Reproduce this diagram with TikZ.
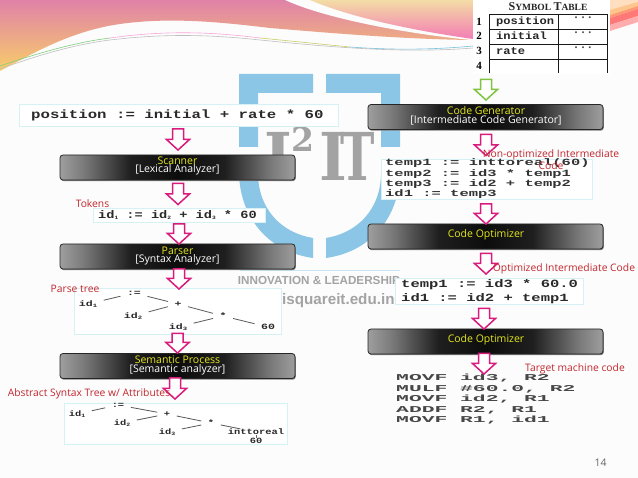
\documentclass[tikz,border=0pt]{standalone}
\usepackage{fontspec}
\setmainfont{Open Sans}
\newfontfamily\codefont{Liberation Mono}
\newfontfamily\logofont{DejaVu Serif}
\newfontfamily\brandfont{Liberation Sans}
\newfontfamily\tablefont{Liberation Serif}
\usetikzlibrary{shadows}
\definecolor{logoblue}{HTML}{8CC6E7}
\definecolor{logogray}{HTML}{A3A3A3}
\definecolor{arrowpink}{HTML}{D81B7C}
\definecolor{arrowgreen}{HTML}{80C341}
\definecolor{labelred}{HTML}{C2262E}
\definecolor{stageyellow}{HTML}{E4E81E}
\definecolor{boxedge}{HTML}{D6F1F3}
\definecolor{codeink}{HTML}{2A2A2A}
\pgfdeclarehorizontalshading{stagegrad}{100bp}{color(0bp)=(black!38);color(25bp)=(black!38);color(30bp)=(black!52);color(40bp)=(black!88);color(50bp)=(black!95);color(60bp)=(black!88);color(70bp)=(black!52);color(75bp)=(black!38);color(100bp)=(black!38)}
\tikzset{
  stagebox/.style={draw=black!85,line width=.8pt,rounded corners=3pt,shading=stagegrad,shade,minimum width=235pt,minimum height=25pt,inner sep=0pt,
    general shadow={fill=black!50,shadow xshift=.8pt,shadow yshift=-1.2pt}},
  stagetext/.style={font=\fontsize{10.5}{10.5}\selectfont,inner sep=0pt},
  upper/.style={stagetext,text=stageyellow},
  lower/.style={stagetext,text=white},
  notelabel/.style={font=\fontsize{10.3}{12}\selectfont,text=labelred,inner sep=0pt,align=center},
  codebox/.style={draw=boxedge,line width=.8pt,fill=white,inner sep=0pt},
  codeline/.style={font=\codefont\bfseries\fontsize{9.5}{9.5}\selectfont,text=black!80,inner sep=0pt,anchor=west},
  optline/.style={font=\codefont\bfseries\fontsize{11}{11}\selectfont,text=codeink,inner sep=0pt,anchor=west},
  machline/.style={font=\codefont\bfseries\fontsize{9}{9}\selectfont,text=black!72,inner sep=0pt,anchor=west},
  treeitem/.style={font=\codefont\bfseries\fontsize{8}{8}\selectfont,text=codeink,inner sep=1.5pt},
  treeline/.style={draw=black!65,line width=.8pt,shorten >=5pt,shorten <=5pt},
  blockarrow/.style={draw=#1,line width=1.5pt,fill=white,line join=miter},
  tablerule/.style={draw=black!90,line width=.9pt},
  tabletext/.style={font=\codefont\bfseries\fontsize{10.5}{10.5}\selectfont,inner sep=0pt,text=black!85},
  rownum/.style={font=\tablefont\bfseries\fontsize{11}{11}\selectfont,inner sep=0pt},
  tabledots/.style={font=\tablefont\bfseries\fontsize{12}{12}\selectfont,inner sep=0pt,text=black!70},
  brand/.style={font=\brandfont\bfseries,text=logogray,inner sep=0pt},
  wave/.style={line width=.6pt},
}
% cx, top, bottom, colour
\newcommand{\blockarr}[4]{\draw[blockarrow=#4] ({#1-5.5},#2) -- ({#1+5.5},#2) -- ({#1+5.5},{#3-10.5}) -- ({#1+11.5},{#3-10.5}) -- (#1,#3) -- ({#1-11.5},{#3-10.5}) -- ({#1-5.5},{#3-10.5}) -- cycle;}
\newcommand{\wide}[2]{\scalebox{#1}[1]{#2}}
\newcommand{\lowd}[1]{\raisebox{-1.5pt}{\fontsize{5}{5}\selectfont #1}}
\begin{document}
\begin{tikzpicture}[x=1pt,y=-1pt]
\useasboundingbox (0,0) rectangle (638,478);
\fill[black!1] (0,0) rectangle (638,478);
% header waves
\shade[top color={rgb,255:red,224;green,130;blue,168},middle color={rgb,255:red,232;green,165;blue,145},bottom color={rgb,255:red,248;green,205;blue,105}]
  (0,0) -- (470,0) -- (470,40) .. controls (400,39) and (330,33) .. (270,28) .. controls (220,22) and (170,17) .. (120,24) .. controls (70,31) and (30,55) .. (0,71) -- cycle;
\fill[black!1] (283,-1) .. controls (320,17) and (400,33) .. (471,40) -- (471,-1) -- cycle;
\shade[top color={rgb,255:red,243;green,220;blue,165},bottom color={rgb,255:red,243;green,125;blue,180}]
  (310,0) .. controls (350,17) and (410,30) .. (473,39) -- (473,0) -- cycle;
\draw[wave,draw=green!45!gray!70] (0,66) .. controls (30,56) and (70,43) .. (110,38);
\draw[wave,draw=magenta!35] (110,38) .. controls (160,31) and (205,31) .. (260,38);
\draw[wave,draw=green!35!orange!60] (260,38) .. controls (290,41) and (320,44) .. (350,47);
\draw[wave,draw=cyan!70!gray!70] (350,47) .. controls (390,50) and (430,50) .. (473,46);
\draw[wave,draw=black!25] (0,69) .. controls (30,58) and (70,45) .. (110,40) .. controls (160,34) and (205,34) .. (260,40) .. controls (320,46) and (400,54) .. (473,48);
% top right stripes
\begin{scope}
\clip (610,0) rectangle (638,40);
\fill[orange!25] (610,12) -- (638,2) -- (638,0) -- (610,0) -- cycle;
\fill[orange!45] (610,15) -- (638,6) -- (638,2) -- (610,10) -- cycle;
\fill[red!45!orange!55] (610,18) -- (638,9) -- (638,6) -- (610,15) -- cycle;
\fill[red!55!pink!80] (610,25) -- (638,16) -- (638,9) -- (610,18) -- cycle;
\fill[pink!90!red] (610,31) -- (638,22) -- (638,16) -- (610,25) -- cycle;
\end{scope}
% logo
\fill[logoblue] (239,74) -- (313,74) -- (313,93) -- (258,93) -- (258,147) -- (239,147) -- cycle;
\fill[logoblue] (400,74) -- (326,74) -- (326,93) -- (381,93) -- (381,147) -- (400,147) -- cycle;
\fill[logoblue] (239,175) .. controls (241,220) and (270,252) .. (313,258) -- (313,238) .. controls (282,233) and (259,210) .. (258,175) -- cycle;
\fill[logoblue] (400,175) .. controls (398,220) and (369,252) .. (326,258) -- (326,238) .. controls (357,233) and (380,210) .. (381,175) -- cycle;
\node[font=\logofont\bfseries\fontsize{66}{66}\selectfont,text=logogray,inner sep=0pt] (logoI) at (278,156) {\scalebox{.9}[1]{I}};
\node[font=\logofont\bfseries\fontsize{33}{33}\selectfont,text=logogray,inner sep=0pt] (logoTwo) at (303,139) {2};
\node[font=\logofont\bfseries\fontsize{66}{66}\selectfont,text=logogray,inner sep=0pt] (logoIb) at (333,156) {\scalebox{.9}[1]{I}};
\node[font=\logofont\bfseries\fontsize{66}{66}\selectfont,text=logogray,inner sep=0pt] (logoT) at (358,156) {\scalebox{.7}[1]{T}};
\draw[logoblue!45,line width=.8pt] (240,270) -- (400,270);
\node[brand,font=\brandfont\bfseries\fontsize{11.7}{11.7}\selectfont] (innov) at (319,280) {INNOVATION \& LEADERSHIP};
\node[brand,font=\brandfont\bfseries\fontsize{15.2}{15.2}\selectfont,anchor=west] (site) at (282,301) {isquareit.edu.in};
% stage boxes
\node[stagebox] (scanner) at (177.5,167.5) {};
\node[stagebox] (parser) at (177.5,256.5) {};
\node[stagebox] (semantic) at (177.5,366) {};
\node[stagebox] (generator) at (485.5,117) {};
\node[stagebox] (optimizerA) at (485.5,236.5) {};
\node[stagebox] (optimizerB) at (485.5,341.5) {};
% code panels
\node[codebox,minimum width=319pt,minimum height=22pt] (source) at (178.5,115) {};
\node[optline,font=\codefont\bfseries\fontsize{12}{12}\selectfont] (sourcetext) at (31,115) {\wide{1.31}{position := initial + rate * 60}};
\node[codebox,minimum width=172pt,minimum height=14pt] (tokens) at (179,215) {};
\node[optline] (tokentext) at (98,215) {\wide{1.24}{id\lowd{1} := id\lowd{2} + id\lowd{3} * 60}};
\node[codebox,minimum width=207pt,minimum height=46pt] (parsepanel) at (177.5,311) {};
\node[treeitem] (pa) at (88,304) {\wide{1.45}{id\lowd{1}}};
\node[treeitem] (pb) at (134,293) {\wide{1.45}{:=}};
\node[treeitem] (pc) at (178,304) {\wide{1.45}{+}};
\node[treeitem] (pd) at (133,316) {\wide{1.45}{id\lowd{2}}};
\node[treeitem] (pe) at (223,316) {\wide{1.45}{*}};
\node[treeitem] (pf) at (178,327) {\wide{1.45}{id\lowd{3}}};
\node[treeitem] (pg) at (268,327) {\wide{1.45}{60}};
\draw[treeline] (pa) -- (pb);
\draw[treeline] (pb) -- (pc);
\draw[treeline] (pd) -- (pc);
\draw[treeline] (pc) -- (pe);
\draw[treeline] (pf) -- (pe);
\draw[treeline] (pe) -- (pg);
\node[codebox,minimum width=223pt,minimum height=41pt] (astpanel) at (175.5,423.5) {};
\node[treeitem] (aa) at (77,414) {\wide{1.3}{id\lowd{1}}};
\node[treeitem] (ab) at (118,405) {\wide{1.3}{:=}};
\node[treeitem] (ac) at (167,414) {\wide{1.3}{+}};
\node[treeitem] (ad) at (122,423) {\wide{1.3}{id\lowd{2}}};
\node[treeitem] (ae) at (211,423) {\wide{1.3}{*}};
\node[treeitem] (af) at (167,432) {\wide{1.3}{id\lowd{3}}};
\node[treeitem,inner sep=0pt] (ag) at (256,432) {\wide{1.3}{inttoreal}};
\node[treeitem,inner sep=0pt] (ah) at (256,441) {\wide{1.3}{60}};
\draw[treeline] (aa) -- (ab);
\draw[treeline] (ab) -- (ac);
\draw[treeline] (ad) -- (ac);
\draw[treeline] (ac) -- (ae);
\draw[treeline] (af) -- (ae);
\draw[treeline,shorten >=0pt] (ae) -- (ag);
\draw[black!60,line width=.4pt] (ag) -- (ah);
\node[codebox,minimum width=211pt,minimum height=40pt] (temppanel) at (486.5,179) {};
\node[codeline] (ta) at (385,163.5) {\wide{1.63}{temp1 := inttoreal(60)}};
\node[codeline] (tb) at (385,174) {\wide{1.63}{temp2 := id3 * temp1}};
\node[codeline] (tc) at (385,184) {\wide{1.63}{temp3 := id2 + temp2}};
\node[codeline] (td) at (385,194.5) {\wide{1.63}{id1 := temp3}};
\node[codebox,minimum width=188pt,minimum height=26pt] (optpanel) at (489,291) {};
\node[optline] (oa) at (401,285) {\wide{1.41}{temp1 := id3 * 60.0}};
\node[optline] (ob) at (401,299) {\wide{1.41}{id1 := id2 + temp1}};
\node[machline] (ma) at (396,378) {\wide{2.37}{MOVF id3, R2}};
\node[machline] (mb) at (396,389) {\wide{2.37}{MULF \#60.0, R2}};
\node[machline] (mc) at (396,399) {\wide{2.37}{MOVF id2, R1}};
\node[machline] (md) at (396,410) {\wide{2.37}{ADDF R2, R1}};
\node[machline] (me) at (396,420) {\wide{2.37}{MOVF R1, id1}};
% symbol table
\fill[white] (473,0) rectangle (610,74);
\node[inner sep=0pt,font=\tablefont\bfseries,text=black!85] (symtitle) at (548,6.5) {\fontsize{12}{12}\selectfont S\fontsize{9.5}{9.5}\selectfont YMBOL \fontsize{12}{12}\selectfont T\fontsize{9.5}{9.5}\selectfont ABLE};
\draw[tablerule] (489,73.5) -- (489,14) -- (607.5,14) -- (607.5,73.5);
\draw[tablerule] (558,14) -- (558,73.5);
\draw[tablerule] (489,29) -- (607.5,29);
\draw[tablerule] (489,44) -- (607.5,44);
\draw[tablerule] (489,59) -- (607.5,59);
\node[rownum] (r1) at (479,21.5) {1};
\node[rownum] (r2) at (479,36) {2};
\node[rownum] (r3) at (479,51) {3};
\node[rownum] (r4) at (479,66) {4};
\node[tabletext,anchor=west] (s1) at (496,21.5) {\wide{1.15}{position}};
\node[tabletext,anchor=west] (s2) at (496,36) {\wide{1.15}{initial}};
\node[tabletext,anchor=west] (s3) at (496,51) {\wide{1.15}{rate}};
\node[tabledots] (d1) at (583,18) {. . .};
\node[tabledots] (d2) at (583,33) {. . .};
\node[tabledots] (d3) at (583,48) {. . .};
% stage texts
\node[upper] (scannerA) at (177.5,161) {Scanner};
\node[lower] (scannerB) at (177.5,170) {[Lexical Analyzer]};
\node[upper] (parserA) at (177.5,250.5) {Parser};
\node[lower] (parserB) at (177.5,259.5) {[Syntax Analyzer]};
\node[upper] (semanticA) at (177.5,360) {Semantic Process};
\node[lower] (semanticB) at (177.5,369.5) {[Semantic analyzer]};
\node[upper] (generatorA) at (486,110.5) {Code Generator};
\node[lower] (generatorB) at (486,120) {[Intermediate Code Generator]};
\node[upper] (optimizerAt) at (486,235) {Code Optimizer};
\node[upper] (optimizerBt) at (486,339.5) {Code Optimizer};
% arrows
\blockarr{178}{129}{150}{arrowpink}
\blockarr{178}{183.5}{204.5}{arrowpink}
\blockarr{179}{224}{244}{arrowpink}
\blockarr{179}{269}{289}{arrowpink}
\blockarr{177.5}{333.5}{353}{arrowpink}
\blockarr{175}{378}{399}{arrowpink}
\blockarr{486}{79.5}{100}{arrowgreen}
\blockarr{486}{134.5}{155.5}{arrowpink}
\blockarr{486}{204}{224}{arrowpink}
\blockarr{486}{253.5}{274}{arrowpink}
\blockarr{484}{308.5}{329}{arrowpink}
\blockarr{484}{353.5}{374}{arrowpink}
% labels
\node[notelabel] (tokenlabel) at (92.5,204) {Tokens};
\node[notelabel] (parselabel) at (75,288.5) {Parse tree};
\node[notelabel] (astlabel) at (89,393.5) {Abstract Syntax Tree w/ Attributes};
\node[notelabel] (nonopt) at (551,160) {Non-optimized Intermediate\\Code};
\node[notelabel] (optlabel) at (564,268.5) {Optimized Intermediate Code};
\node[notelabel] (targetlabel) at (575,368.5) {Target machine code};
\node[font=\fontsize{10.5}{10.5}\selectfont,text=black!60,inner sep=0pt] (pageno) at (600.5,462.5) {14};
\end{tikzpicture}
\end{document}
